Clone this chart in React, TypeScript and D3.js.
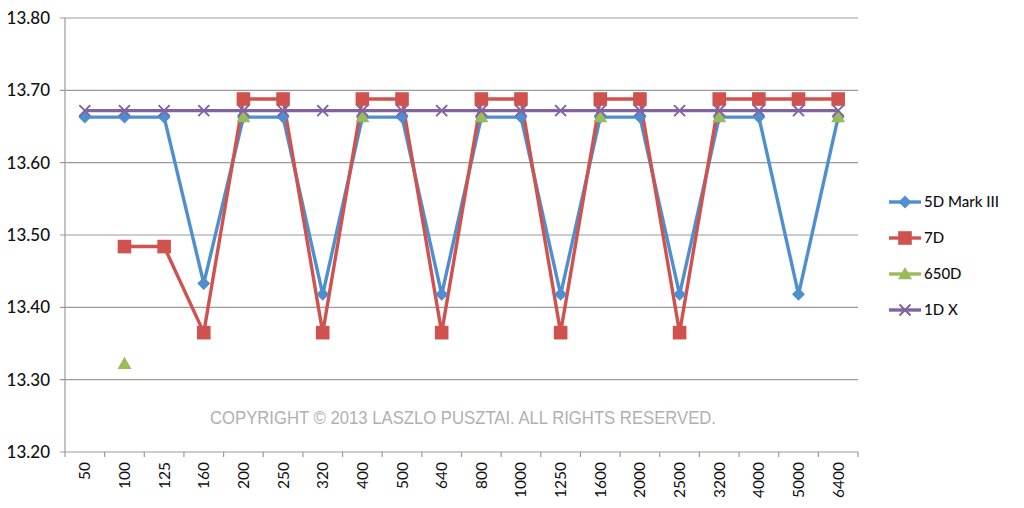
import React from "react";
import * as d3 from "d3";

const categories = ["50","100","125","160","200","250","320","400","500","640","800","1000","1250","1600","2000","2500","3200","4000","5000","6400"];
const mark3 = [13.663,13.663,13.663,13.433,13.663,13.663,13.418,13.663,13.663,13.418,13.663,13.663,13.418,13.663,13.663,13.418,13.663,13.663,13.418,13.663];
const d7: (number|null)[] = [null,13.484,13.484,13.365,13.688,13.688,13.365,13.688,13.688,13.365,13.688,13.688,13.365,13.688,13.688,13.365,13.688,13.688,13.688,13.688];
const d650: (number|null)[] = [null,13.322,null,null,13.663,null,null,13.663,null,null,13.663,null,null,13.663,null,null,13.663,null,null,13.663];
const d1x = [13.672,13.672,13.672,13.672,13.672,13.672,13.672,13.672,13.672,13.672,13.672,13.672,13.672,13.672,13.672,13.672,13.672,13.672,13.672,13.672];
const yTicks = [13.2,13.3,13.4,13.5,13.6,13.7,13.8];
const seriesNames = ["5D Mark III","7D","650D","1D X"];

const colors = ["#4F8FCF","#D0524E","#9BBB59","#8064A2"];
const markers = ["diamond","square","triangle","cross"];

const W = 1024, H = 508;
const L = 65, R = 858, T = 18, B = 452;

function Marker({ type, x, y, color }: { type: string; x: number; y: number; color: string }) {
  if (type === "diamond") {
    const s = 6.5;
    return <path d={`M${x},${y - s}L${x + s},${y}L${x},${y + s}L${x - s},${y}Z`} fill={color} />;
  }
  if (type === "square") {
    const s = 6.8;
    return <rect x={x - s} y={y - s} width={2 * s} height={2 * s} fill={color} />;
  }
  if (type === "triangle") {
    const s = 7;
    return <path d={`M${x},${y - s}L${x + s},${y + s * 0.75}L${x - s},${y + s * 0.75}Z`} fill={color} />;
  }
  const s = 5.5;
  return <path d={`M${x - s},${y - s}L${x + s},${y + s}M${x + s},${y - s}L${x - s},${y + s}`} stroke={color} strokeWidth={2} />;
}

export default function App() {
  const x = d3.scaleBand<string>().domain(categories).range([L, R]);
  const y = d3.scaleLinear().domain([13.2, 13.8]).range([B, T]);
  const cx = (c: string) => (x(c) as number) + x.bandwidth() / 2;
  const allSeries = [mark3, d7, d650, d1x];
  const line = d3.line<number | null>()
    .defined((d) => d !== null)
    .x((_, i) => cx(categories[i]))
    .y((d) => y(d as number));
  const font = "Lato, 'Open Sans', sans-serif";

  return (
    <div style={{ position: "fixed", left: 0, top: 0 }}>
      <svg width={W} height={H} style={{ display: "block", background: "#fff" }}>
        {yTicks.map((t) => (
          <g key={t}>
            <line x1={L - 5} x2={R} y1={y(t)} y2={y(t)} stroke="#9a9a9a" strokeWidth={1.2} />
            <text x={50} y={y(t) + 6} textAnchor="end" fontFamily={font} fontSize={17} fontWeight={500} fill="#111">
              {t.toFixed(2)}
            </text>
          </g>
        ))}
        <line x1={L} x2={L} y1={T} y2={B} stroke="#9a9a9a" strokeWidth={1.2} />
        {categories.map((c, i) => (
          <line key={"tk" + i} x1={x(c) as number} x2={x(c) as number} y1={B} y2={B + 5} stroke="#9a9a9a" strokeWidth={1.2} />
        ))}
        <line x1={R} x2={R} y1={B} y2={B + 5} stroke="#9a9a9a" strokeWidth={1.2} />
        {categories.map((c) => (
          <text key={"xl" + c} transform={`translate(${cx(c) + 5.5},${462}) rotate(-90)`} textAnchor="end"
            fontFamily={font} fontSize={15.5} fill="#111">{c}</text>
        ))}
        <text x={463} y={424} textAnchor="middle" fontFamily="'Liberation Sans', Arial, sans-serif" fontSize={17.5}
          fill="#b0b0b0" textLength={506} lengthAdjust="spacingAndGlyphs">
          COPYRIGHT © 2013 LASZLO PUSZTAI. ALL RIGHTS RESERVED.
        </text>
        {allSeries.map((s, si) => (
          <path key={"ln" + si} d={line(s) || ""} fill="none" stroke={colors[si]} strokeWidth={3.4} strokeLinejoin="round" />
        ))}
        {allSeries.map((s, si) => (
          <g key={"mk" + si}>
            {s.map((v, i) => v === null ? null : (
              <Marker key={i} type={markers[si]} x={cx(categories[i])} y={y(v)} color={colors[si]} />
            ))}
          </g>
        ))}
        {seriesNames.map((n, i) => {
          const ly = 202 + i * 36;
          return (
            <g key={n}>
              <line x1={889} x2={921} y1={ly} y2={ly} stroke={colors[i]} strokeWidth={3.4} />
              <Marker type={markers[i]} x={905} y={ly} color={colors[i]} />
              <text x={924} y={ly + 5} fontFamily={font} fontSize={15} fontWeight={500} fill="#111">{n}</text>
            </g>
          );
        })}
      </svg>
    </div>
  );
}
